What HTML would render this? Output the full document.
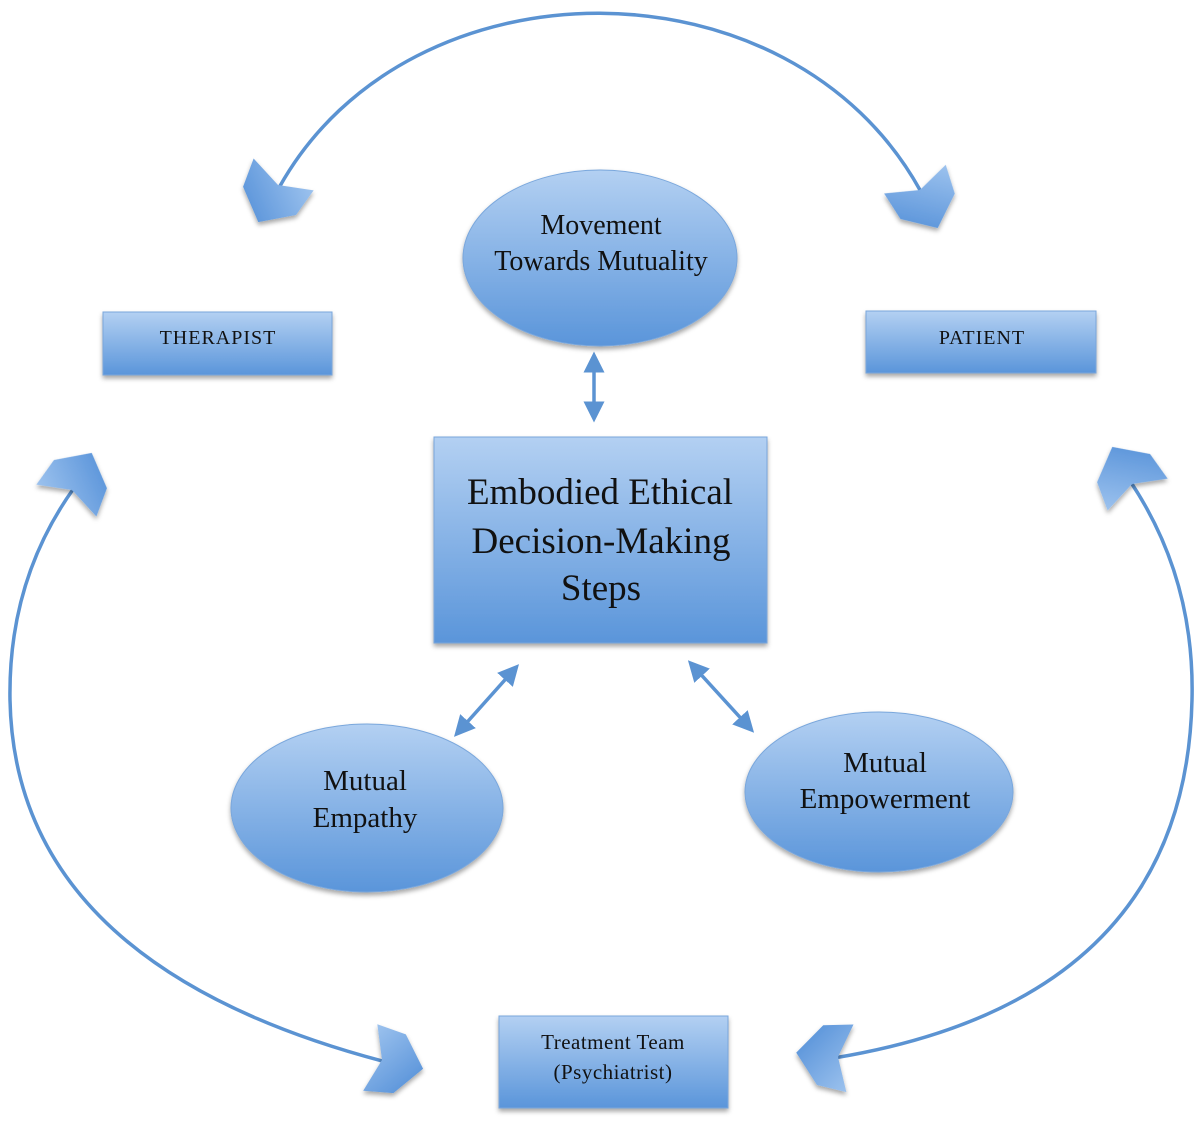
<!DOCTYPE html>
<html><head><meta charset="utf-8"><style>
html,body{margin:0;padding:0;background:#fff;}
svg{display:block;}
text{font-family:"Liberation Serif",serif;fill:#111;}
</style></head><body>
<svg width="1200" height="1133" viewBox="0 0 1200 1133" xmlns="http://www.w3.org/2000/svg">
<defs>
<linearGradient id="g" x1="0" y1="0" x2="0" y2="1">
<stop offset="0" stop-color="#b3d0f2"/><stop offset="1" stop-color="#5a95da"/>
</linearGradient>
<linearGradient id="ga" x1="0" y1="0" x2="1" y2="1">
<stop offset="0" stop-color="#9cc2ee"/><stop offset="1" stop-color="#4d8bd6"/>
</linearGradient>
<filter id="sh" x="-20%" y="-20%" width="140%" height="150%">
<feDropShadow dx="0" dy="3" stdDeviation="2.5" flood-color="#000" flood-opacity="0.35"/>
</filter>
<path id="chev" d="M0,0 L-12,-34 L18,-30 L42,0 L18,30 L-12,34 Z"/>
<marker id="ah" markerWidth="6" markerHeight="6" refX="3" refY="3" orient="auto-start-reverse">
<path d="M0,0 L6,3 L0,6 Z" fill="#5b93d2"/>
</marker>
</defs>

<!-- arcs -->
<g fill="none" stroke="#5b93d2" stroke-width="3.5">
<path d="M280,186 C410,-45 790,-45 920,190"/>
<path d="M74,488 Q8,580 10,700 Q15,965 386,1062"/>
<path d="M1132,484 Q1195,580 1192,700 Q1185,1000 834,1058"/>
</g>

<!-- chevron arrowheads -->
<g fill="url(#ga)" filter="url(#sh)">
<use href="#chev" transform="translate(278,185) rotate(118)"/>
<use href="#chev" transform="translate(920,190) rotate(65)"/>
<use href="#chev" transform="translate(72,490) rotate(-62)"/>
<use href="#chev" transform="translate(1132,484) rotate(-118)"/>
<use href="#chev" transform="translate(382,1060) rotate(12)"/>
<use href="#chev" transform="translate(838,1057) rotate(186)"/>
</g>

<!-- small double arrows -->
<g stroke="#5b93d2" stroke-width="3.5" fill="none" marker-start="url(#ah)" marker-end="url(#ah)">
<line x1="594" y1="362" x2="594" y2="412"/>
<line x1="512" y1="672" x2="461" y2="729"/>
<line x1="695" y1="668" x2="747" y2="725"/>
</g>

<!-- boxes -->
<g fill="url(#g)" stroke="#7aa7dc" stroke-width="1" filter="url(#sh)">
<rect x="103" y="312" width="229" height="63"/>
<rect x="866" y="311" width="230" height="62"/>
<rect x="434" y="437" width="333" height="206"/>
<rect x="499" y="1016" width="229" height="92"/>
<ellipse cx="600" cy="258" rx="137" ry="88"/>
<ellipse cx="367" cy="808" rx="136" ry="84"/>
<ellipse cx="879" cy="792" rx="134" ry="80"/>
</g>

<!-- text -->
<g text-anchor="middle">
<text x="218" y="344" font-size="20" letter-spacing="1">THERAPIST</text>
<text x="982" y="344" font-size="20" letter-spacing="1">PATIENT</text>
<text x="600" y="504" font-size="37">Embodied Ethical</text>
<text x="601" y="553" font-size="37">Decision-Making</text>
<text x="601" y="600" font-size="37">Steps</text>
<text x="601" y="234" font-size="28">Movement</text>
<text x="601" y="270" font-size="28">Towards  Mutuality</text>
<text x="365" y="790" font-size="29">Mutual</text>
<text x="365" y="827" font-size="29">Empathy</text>
<text x="885" y="772" font-size="29">Mutual</text>
<text x="885" y="808" font-size="29">Empowerment</text>
<text x="613" y="1049" font-size="21" letter-spacing="0.5">Treatment Team</text>
<text x="613" y="1079" font-size="21" letter-spacing="0.5">(Psychiatrist)</text>
</g>
</svg>
</body></html>
